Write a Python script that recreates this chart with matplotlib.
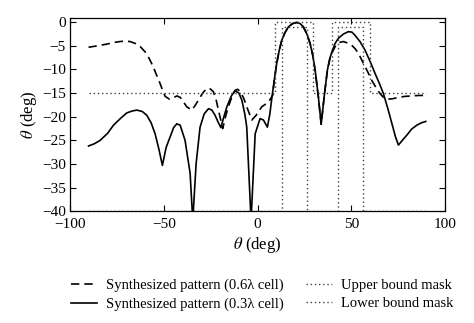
import matplotlib
matplotlib.use("Agg")
import matplotlib.pyplot as plt

# Synthesized pattern (0.3 lambda cell) - solid
solid_x = [-90.2, -87, -84, -80, -76.9, -73, -69.8, -67, -64.4, -61.5, -59.1, -56.8, -54.7, -52.7,
           -50.8, -48.8, -46.7, -44.8, -43.1, -41.3, -38.7, -36, -34.6, -32.8, -30.7, -28.5,
           -26.2, -24.4, -22.7, -21, -19.6, -18, -16.4, -14, -12, -10, -8.4, -6.8, -5.8, -3.5,
           -1.3, 1.3, 3.1, 5.2, 6.5, 7.6, 8.8, 10.2, 11.5, 12.9, 14.6, 16.4, 18.6, 20.9, 22.7,
           24.4, 26.3, 28, 29.4, 30.7, 32.4, 33.9, 35.5, 37.2, 38.4, 39.6, 41.3, 43.1, 45.8,
           48.4, 50.3, 52, 54.6, 57.3, 60, 62.7, 65, 67.1, 69.4, 71.6, 73.5, 75.1, 77.2, 79.6,
           82.2, 84.9, 87.3, 89.7]
solid_y = [-26.2, -25.7, -25.0, -23.5, -21.8, -20.3, -19.2, -18.8, -18.6, -18.9, -19.7, -21.3,
           -23.6, -26.8, -30.3, -26.5, -24.3, -22.3, -21.5, -21.8, -25.0, -32.0, -42.0, -29.9,
           -22.2, -19.4, -18.3, -18.6, -19.7, -21.2, -22.3, -20.0, -17.9, -15.6, -14.5, -15.0,
           -16.5, -19.5, -22.2, -42.0, -23.6, -20.4, -20.7, -22.2, -19.5, -16.0, -12.5, -8.7,
           -6.0, -3.8, -2.2, -1.0, -0.3, -0.05, -0.3, -1.0, -2.5, -4.5, -7.0, -10.2, -15.8,
           -21.6, -15.8, -10.2, -7.8, -6.3, -4.5, -3.4, -2.5, -2.0, -2.1, -2.8, -4.1, -5.9,
           -8.3, -10.9, -13.0, -15.1, -18.2, -21.4, -24.2, -26.0, -25.0, -23.9, -22.6, -21.8,
           -21.3, -21.0]

# Synthesized pattern (0.6 lambda cell) - dashed
dash_x = [-90.2, -87, -84, -80, -76.9, -73.5, -70.7, -68, -65.3, -62.5, -60, -57.8, -55.6, -53.8,
          -52, -50.5, -49.3, -47, -45, -43.1, -41.3, -39.5, -37.8, -35.1, -33.3, -31.6, -29.3,
          -27.1, -25.3, -23.6, -22.2, -20.9, -18.6, -17, -15.6, -13.6, -12, -10.6, -9.3, -7.5,
          -5.8, -3.1, -0.8, 2.2, 5.8, 8.1, 8.8, 10.2, 11.5, 12.9, 14.6, 16.4, 18.6, 20.9, 22.7,
          24.4, 26.3, 28, 29.4, 30.7, 32.4, 33.9, 35.5, 37.2, 39.0, 41.3, 43.5, 45.8, 48.0,
          50.2, 52, 53.8, 56.4, 58.6, 60.9, 63.1, 65.3, 67.1, 68.9, 72, 75.1, 78.6, 82.2, 86,
          89.7]
dash_y = [-5.3, -5.1, -4.9, -4.6, -4.3, -4.1, -4.0, -4.1, -4.5, -5.2, -6.3, -7.7, -9.5, -11.3,
          -13.0, -14.6, -15.7, -16.3, -16.0, -15.6, -15.9, -16.9, -17.9, -18.6, -17.6, -16.5,
          -15.0, -14.0, -14.1, -14.7, -16.3, -18.6, -22.5, -19.8, -17.9, -15.6, -14.4, -14.2,
          -14.7, -16.0, -17.9, -20.7, -19.7, -17.9, -16.9, -15.4, -12.5, -8.7, -6.0, -3.8,
          -2.2, -1.0, -0.3, -0.05, -0.3, -1.0, -2.5, -4.5, -7.0, -10.2, -15.8, -21.6, -15.8,
          -10.2, -7.0, -5.2, -4.3, -4.1, -4.4, -4.9, -5.6, -6.6, -8.7, -10.4, -12.3, -13.8,
          -15.1, -15.9, -16.3, -16.2, -15.9, -15.7, -15.6, -15.5, -15.5]

# Masks
upper_x = [-90, 9.3, 9.3, 29.8, 29.8, 39.6, 39.6, 59.7, 59.7, 90]
upper_y = [-15, -15, 0, 0, -15, -15, 0, 0, -15, -15]
lower_x = [-90, 12.9, 12.9, 26.2, 26.2, 43.1, 43.1, 56.4, 56.4, 90]
lower_y = [-40, -40, -1, -1, -40, -40, -1, -1, -40, -40]

x_ticks = [-100, -50, 0, 50, 100]
y_ticks = [0, -5, -10, -15, -20, -25, -30, -35, -40]

plt.rcParams['font.family'] = ['Liberation Serif', 'DejaVu Serif']
plt.rcParams['mathtext.fontset'] = 'stix'

fig = plt.figure(figsize=(4.74, 3.23), dpi=100)
ax = fig.add_axes([0.148, 0.346, 0.791, 0.597])

dot_style = dict(color='0.25', linestyle=(0, (1, 2)), linewidth=1.0)
l1, = ax.plot(dash_x, dash_y, color='black', linestyle=(0, (5, 3)), linewidth=1.2,
              label='Synthesized pattern (0.6λ cell)')
l2, = ax.plot(solid_x, solid_y, color='black', linewidth=1.2,
              label='Synthesized pattern (0.3λ cell)')
l3, = ax.plot(upper_x, upper_y, label='Upper bound mask', **dot_style)
l4, = ax.plot(lower_x, lower_y, label='Lower bound mask', **dot_style)

ax.set_xlim(-100, 100)
ax.set_ylim(-40, 0.8)
ax.set_xticks(x_ticks)
ax.set_yticks(y_ticks)
ax.tick_params(direction='in', top=True, right=True, length=4, width=0.8, labelsize=11)
ax.tick_params(axis='x', pad=5)
ax.tick_params(axis='y', pad=3)
for s in ax.spines.values():
    s.set_linewidth(0.9)
ax.set_xlabel(r'$\theta$ (deg)', fontsize=12, labelpad=3)
ax.set_ylabel(r'$\theta$ (deg)', fontsize=12, labelpad=2)

fig.legend(handles=[l1, l2, l3, l4], ncol=2, loc='center', bbox_to_anchor=(0.553, 0.087),
           frameon=False, fontsize=10.5, handlelength=1.8, columnspacing=1.5,
           handletextpad=0.6, labelspacing=0.35)

fig.savefig('out.png', dpi=100)
